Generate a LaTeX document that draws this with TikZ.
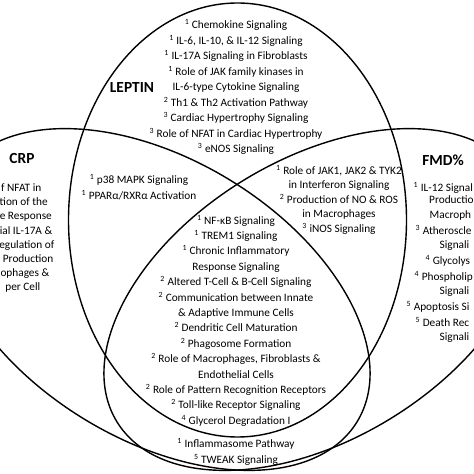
\documentclass[tikz,border=0pt]{standalone}
\usepackage{fontspec}
\setmainfont{Carlito}
\newcommand{\pwy}[2]{\textsuperscript{#1} #2}

\begin{document}
\begin{tikzpicture}[x=1pt, y=1pt, line width=1.4pt,
  plist/.style={align=center, inner sep=0pt, font=\fontsize{11.3}{15.5}\selectfont},
  frag/.style={inner sep=0pt, font=\fontsize{11.3}{15.5}\selectfont},
  setname/.style={inner sep=0pt, font=\fontsize{15.4}{18}\selectfont\bfseries}]
  \useasboundingbox (0,0) rectangle (474,474);
  \clip (0,0) rectangle (474,474);
  % the three sets
  \draw (237.5,254) ellipse (169pt and 217pt);
  \draw[rotate around={-31.4:(157,174.5)}] (157,174.5) ellipse (234.5pt and 140pt);
  \draw[rotate around={31.4:(317,174.5)}] (317,174.5) ellipse (234.5pt and 140pt);
  % set names
  \node[setname] (leptin) at (132,386) {LEPTIN};
  \node[setname] (crp) at (22,315) {CRP};
  \node[setname] (fmd) at (443,314) {FMD\%};
  % LEPTIN only
  \node[plist] (lep) at (236,387) {\pwy{1}{Chemokine Signaling}\\ \pwy{1}{IL-6, IL-10, \& IL-12 Signaling}\\
    \pwy{1}{IL-17A Signaling in Fibroblasts}\\ \pwy{1}{Role of JAK family kinases in}\\ IL-6-type Cytokine Signaling\\
    \pwy{2}{Th1 \& Th2 Activation Pathway}\\ \pwy{3}{Cardiac Hypertrophy Signaling}\\
    \pwy{3}{Role of NFAT in Cardiac Hypertrophy}\\ \pwy{3}{eNOS Signaling}};
  % CRP and LEPTIN
  \node[plist, font=\fontsize{11.3}{16}\selectfont] (lepcrp) at (139,287) {\pwy{1}{p38 MAPK Signaling}\\ \pwy{1}{PPARα/RXRα Activation}};
  % LEPTIN and FMD%
  \node[plist, font=\fontsize{11.3}{14.5}\selectfont] (lepfmd) at (339,274.5) {\pwy{1}{Role of JAK1, JAK2 \& TYK2}\\ in Interferon Signaling\\
    \pwy{2}{Production of NO \& ROS}\\ in Macrophages\\ \pwy{3}{iNOS Signaling}};
  % all three
  \node[plist, font=\fontsize{11.3}{15.4}\selectfont] (all) at (236,153.3) {\pwy{1}{NF-κB Signaling}\\ \pwy{1}{TREM1 Signaling}\\
    \pwy{1}{Chronic Inflammatory}\\ Response Signaling\\ \pwy{2}{Altered T-Cell \& B-Cell Signaling}\\
    \pwy{2}{Communication between Innate}\\ \& Adaptive Immune Cells\\ \pwy{2}{Dendritic Cell Maturation}\\
    \pwy{2}{Phagosome Formation}\\ \pwy{2}{Role of Macrophages, Fibroblasts \&}\\ Endothelial Cells\\
    \pwy{2}{Role of Pattern Recognition Receptors}\\ \pwy{2}{Toll-like Receptor Signaling}\\ \pwy{4}{Glycerol Degradation I}};
  % CRP and FMD%
  \node[plist, font=\fontsize{11.3}{16}\selectfont] (crpfmd) at (236,22.3) {\pwy{1}{Inflammasome Pathway}\\ \pwy{5}{TWEAK Signaling}};
  % CRP only, as far as it shows at the left edge
  \foreach \y/\x/\t [count=\i] in {188/42/f NFAT in, 202/48.5/tion of the, 216/52.5/e Response,
      231/53/ial IL-17A \&, 245/55/egulation of, 259/54/Production, 273/50/ophages \&, 287/41/per Cell}{
    \node[frag, anchor=base east] (crp\i) at (\x,470.5-\y) {\t};}
  % FMD% only, as far as it shows at the right edge
  \foreach \y/\x/\t [count=\i] in {188/413/\pwy{1}{IL-12 Signal}, 200/428.5/Productio, 215/429/Macroph,
      231/415/\pwy{3}{Atheroscle}, 245/439/Signali, 261/425/\pwy{4}{Glycolys}, 277/414/\pwy{4}{Phospholip},
      291/439/Signali, 307/406/\pwy{5}{Apoptosis Si}, 323/415/\pwy{5}{Death Rec}, 337/439/Signali}{
    \node[frag, anchor=base west] (fmd\i) at (\x,470.5-\y) {\t};}
\end{tikzpicture}
\end{document}
